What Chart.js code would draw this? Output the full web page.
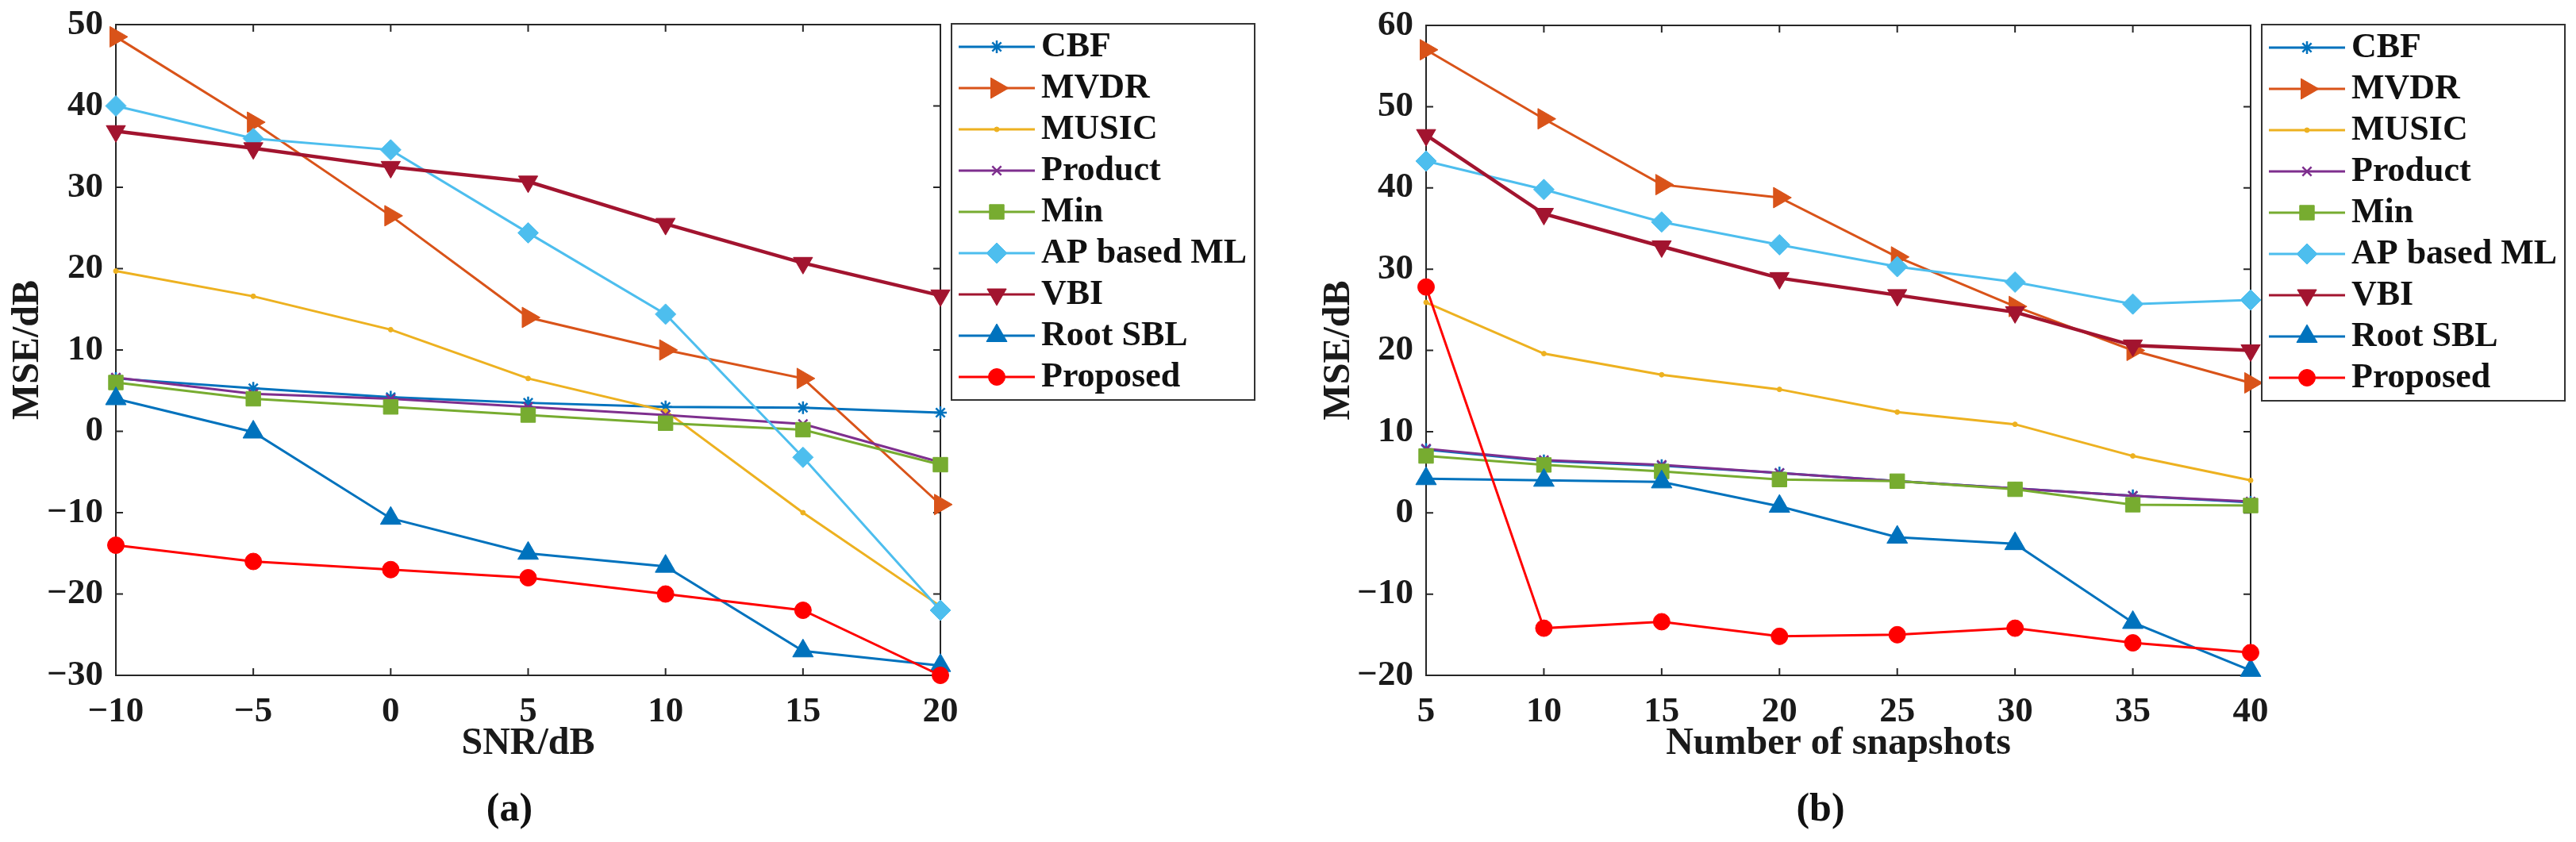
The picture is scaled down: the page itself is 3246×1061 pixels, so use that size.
<!DOCTYPE html>
<html>
<head>
<meta charset="utf-8">
<script src="https://cdn.jsdelivr.net/npm/chart.js@4.4.1/dist/chart.umd.min.js"></script>
<style>
  html, body { margin: 0; padding: 0; background: #fff; }
  #wrap { position: relative; width: 3246px; height: 1061px; overflow: hidden; }
  #wrap canvas { position: absolute; top: 0; }
  .sub { position: absolute; top: 992px; font: bold 50px "Liberation Serif", "Times New Roman", serif;
         line-height: 50px; color: #111; transform: translateX(-50%); }
</style>
</head>
<body>
<div id="wrap">
  <canvas id="chartA" width="1620" height="1061" style="left:0"></canvas>
  <canvas id="chartB" width="1626" height="1061" style="left:1620px"></canvas>
  <div class="sub" style="left:642px">(a)</div>
  <div class="sub" style="left:2294px">(b)</div>
</div>
<script>
// legend names, in plotting order
const methods = ["CBF", "MVDR", "MUSIC", "Product", "Min", "AP based ML", "VBI", "Root SBL", "Proposed"];

// (a) MSE vs SNR
const snrDb = [-10, -5, 0, 5, 10, 15, 20];
const cbfSnr = [6.5, 5.3, 4.2, 3.5, 3.0, 2.9, 2.3];
const mvdrSnr = [48.5, 38, 26.5, 14, 10, 6.5, -9];
const musicSnr = [19.7, 16.6, 12.5, 6.5, 2.5, -10, -21.5];
const productSnr = [6.6, 4.6, 4.0, 3.0, 2.0, 0.9, -3.8];
const minSnr = [6.0, 4.0, 3.0, 2.0, 1.0, 0.2, -4.1];
const apSnr = [40, 36, 34.6, 24.4, 14.4, -3.2, -22];
const vbiSnr = [36.9, 34.8, 32.5, 30.7, 25.5, 20.7, 16.7];
const rootSblSnr = [4.0, -0.1, -10.7, -15, -16.6, -27, -28.8];
const proposedSnr = [-14, -16, -17, -18, -20, -22, -30];

// (b) MSE vs number of snapshots
const snapshots = [5, 10, 15, 20, 25, 30, 35, 40];
const cbfSnap = [7.8, 6.4, 5.8, 4.9, 3.9, 3.0, 2.1, 1.3];
const mvdrSnap = [57, 48.5, 40.4, 38.8, 31.5, 25.4, 20.0, 16];
const musicSnap = [25.9, 19.6, 17.0, 15.2, 12.4, 10.9, 7.0, 4.0];
const productSnap = [7.9, 6.5, 5.9, 4.9, 3.9, 3.0, 2.1, 1.4];
const minSnap = [7.0, 5.9, 5.1, 4.1, 3.9, 2.9, 1.0, 0.9];
const apSnap = [43.3, 39.8, 35.8, 33.0, 30.3, 28.4, 25.7, 26.2];
const vbiSnap = [46.5, 36.8, 32.8, 28.9, 26.8, 24.7, 20.6, 20.0];
const rootSblSnap = [4.2, 4.0, 3.8, 0.8, -3.0, -3.8, -13.5, -19.4];
const proposedSnap = [27.8, -14.2, -13.4, -15.2, -15.0, -14.2, -16.0, -17.2];

// marker / line look, MATLAB default colours
const styles = [
  { color: "#0072BD", point: "star", r: 8, bw: 2.5, lw: 3 },
  { color: "#D95319", point: "triangle", rot: 90, r: 15, bw: 1, lw: 3 },
  { color: "#EDB120", point: "circle", r: 3, bw: 1, lw: 3 },
  { color: "#7E2F8E", point: "crossRot", r: 8, bw: 2.5, lw: 3 },
  { color: "#77AC30", point: "rect", r: 13, bw: 1, lw: 3 },
  { color: "#4DBEEE", point: "rectRot", r: 13, bw: 1, lw: 3 },
  { color: "#A2142F", point: "triangle", rot: 180, r: 14, bw: 1, lw: 4.5 },
  { color: "#0072BD", point: "triangle", r: 15, bw: 1, lw: 3 },
  { color: "#FF0000", point: "circle", r: 10.5, bw: 1, lw: 3 }
];

const FONT = '"Liberation Serif", "Times New Roman", serif';
const INK = "#1a1a1a";

function buildDatasets(xs, series) {
  return series.map((ys, i) => {
    const s = styles[i];
    return {
      label: methods[i],
      data: xs.map((x, k) => ({ x, y: ys[k] })),
      borderColor: s.color,
      backgroundColor: s.color,
      borderWidth: s.lw,
      pointStyle: s.point,
      pointRotation: s.rot || 0,
      pointRadius: s.r,
      pointBackgroundColor: s.color,
      pointBorderColor: s.color,
      pointBorderWidth: s.bw,
      tension: 0,
      clip: false,
      order: methods.length - i
    };
  });
}

const minus = v => String(v).replace("-", "\u2212");

// box round the plot with inward ticks on all four sides
const axisBox = {
  id: "axisBox",
  beforeDatasetsDraw(chart) {
    const { ctx, chartArea: a, scales: { x, y } } = chart;
    ctx.save();
    ctx.strokeStyle = "#262626";
    ctx.lineWidth = 2;
    ctx.strokeRect(a.left, a.top, a.right - a.left, a.bottom - a.top);
    ctx.beginPath();
    x.ticks.forEach(t => {
      const px = x.getPixelForValue(t.value);
      ctx.moveTo(px, a.bottom); ctx.lineTo(px, a.bottom - 9);
      ctx.moveTo(px, a.top); ctx.lineTo(px, a.top + 9);
    });
    y.ticks.forEach(t => {
      const py = y.getPixelForValue(t.value);
      ctx.moveTo(a.left, py); ctx.lineTo(a.left + 9, py);
      ctx.moveTo(a.right, py); ctx.lineTo(a.right - 9, py);
    });
    ctx.stroke();
    ctx.restore();
  }
};

// MATLAB style legend: line with marker, boxed, right of the axes
const boxLegend = {
  id: "boxLegend",
  afterDraw(chart, args, opts) {
    const { ctx, chartArea: a } = chart;
    const left = a.right + opts.gap;
    const top = a.top + opts.dy;
    const w = opts.width, h = opts.height;
    const sets = chart.data.datasets;
    const rowH = (h - 6) / sets.length;
    ctx.save();
    ctx.fillStyle = "#fff";
    ctx.fillRect(left, top, w, h);
    ctx.strokeStyle = "#333";
    ctx.lineWidth = 2;
    ctx.strokeRect(left, top, w, h);
    sets.forEach((ds, i) => {
      const cy = top + 3 + rowH * (i + 0.5);
      ctx.strokeStyle = ds.borderColor;
      ctx.lineWidth = 3;
      ctx.beginPath();
      ctx.moveTo(left + 9, cy);
      ctx.lineTo(left + 105, cy);
      ctx.stroke();
      ctx.fillStyle = ds.pointBackgroundColor;
      ctx.strokeStyle = ds.pointBorderColor;
      ctx.lineWidth = ds.pointBorderWidth;
      Chart.helpers.drawPoint(ctx, {
        pointStyle: ds.pointStyle,
        rotation: ds.pointRotation,
        radius: ds.pointRadius,
        borderWidth: ds.pointBorderWidth
      }, left + 57, cy);
      ctx.fillStyle = "#111";
      ctx.font = "bold 44px " + FONT;
      ctx.textBaseline = "middle";
      ctx.textAlign = "left";
      ctx.fillText(ds.label, left + 113, cy + 1);
    });
    ctx.restore();
  }
};

function makeChart(id, cfg) {
  return new Chart(document.getElementById(id), {
    type: "line",
    data: { datasets: buildDatasets(cfg.xs, cfg.series) },
    plugins: [axisBox, boxLegend],
    options: {
      responsive: false,
      animation: false,
      devicePixelRatio: 1,
      layout: { padding: { left: 0, top: cfg.padTop, right: cfg.padRight, bottom: 0 } },
      plugins: {
        legend: { display: false },
        tooltip: { enabled: false },
        boxLegend: { gap: 14, dy: -1, width: 382, height: 474 }
      },
      scales: {
        x: {
          type: "linear",
          min: cfg.xs[0],
          max: cfg.xs[cfg.xs.length - 1],
          ticks: { stepSize: 5, padding: 19, maxRotation: 0, color: INK,
                   font: { family: FONT, size: 45, weight: "bold" }, callback: minus },
          grid: { display: false, drawTicks: false },
          border: { display: false },
          title: { display: true, text: cfg.xTitle, color: INK,
                   font: { family: FONT, size: 48, weight: "bold" }, padding: { top: 0, bottom: 95 } },
          afterFit: s => { s.height = 210; }
        },
        y: {
          min: cfg.yMin,
          max: cfg.yMax,
          ticks: { stepSize: 10, padding: 16, color: INK,
                   font: { family: FONT, size: 45, weight: "bold" }, callback: minus },
          grid: { display: false, drawTicks: false },
          border: { display: false },
          title: { display: true, text: "MSE/dB", color: INK,
                   font: { family: FONT, size: 48, weight: "bold" }, padding: { top: cfg.yTitlePad, bottom: 0 } },
          afterFit: s => {
            s.width = cfg.yWidth;
            // let the top label overhang instead of pushing the plot down
            s.paddingTop = 10;
            s.paddingBottom = 10;
          }
        }
      }
    }
  });
}

makeChart("chartA", {
  xs: snrDb,
  series: [cbfSnr, mvdrSnr, musicSnr, productSnr, minSnr, apSnr, vbiSnr, rootSblSnr, proposedSnr],
  xTitle: "SNR/dB", yMin: -30, yMax: 50,
  padTop: 31, padRight: 435, yWidth: 146, yTitlePad: 7
});

makeChart("chartB", {
  xs: snapshots,
  series: [cbfSnap, mvdrSnap, musicSnap, productSnap, minSnap, apSnap, vbiSnap, rootSblSnap, proposedSnap],
  xTitle: "Number of snapshots", yMin: -20, yMax: 60,
  padTop: 32, padRight: 410, yWidth: 177, yTitlePad: 39
});
</script>
</body>
</html>
